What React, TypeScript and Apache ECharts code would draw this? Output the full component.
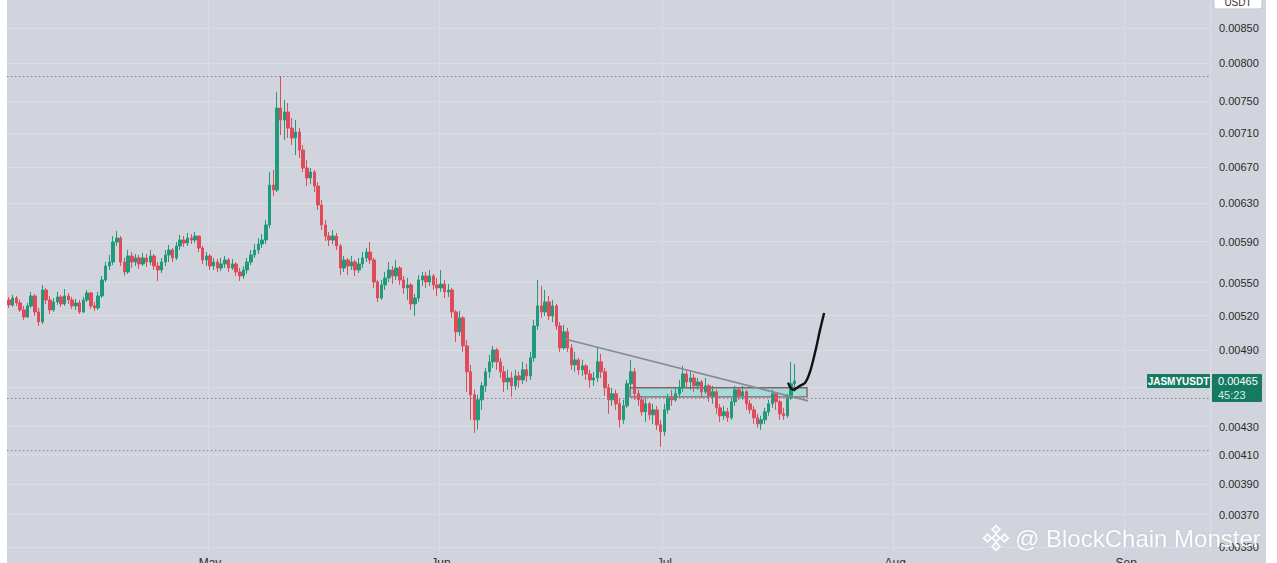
import React, { useEffect, useRef } from 'react';
import * as echarts from 'echarts';

// ---------- data (prices in USDT, 12h candles) ----------
const FIRST_OPEN = 0.00534;
const closes = [
  0.005295, 0.005358, 0.005313, 0.00525, 0.005187, 0.005286, 0.005377, 0.005232, 0.005143, 0.005432,
  0.00534, 0.00525, 0.005322, 0.005368, 0.005304, 0.005377, 0.00534, 0.005286, 0.005313, 0.005232,
  0.00534, 0.005405, 0.005286, 0.005268, 0.005377, 0.005526, 0.005659, 0.005698, 0.005896, 0.005936,
  0.005698, 0.005602, 0.005757, 0.005698, 0.005738, 0.005679, 0.005738, 0.005698, 0.005757, 0.005659,
  0.005621, 0.005698, 0.005767, 0.005816, 0.005738, 0.005856, 0.005916, 0.005886, 0.005936, 0.005916,
  0.005957, 0.005836, 0.005718, 0.005757, 0.005659, 0.005698, 0.00564, 0.005679, 0.005718, 0.00564,
  0.005679, 0.005602, 0.005564, 0.005621, 0.005698, 0.005767, 0.005816, 0.005876, 0.005916, 0.00607,
  0.006499, 0.006444, 0.007413, 0.007263, 0.007363, 0.007164, 0.007043, 0.007116, 0.0069, 0.006691,
  0.006578, 0.006645, 0.006488, 0.006281, 0.00607, 0.005957, 0.005916, 0.005957, 0.005856, 0.00564,
  0.005718, 0.005659, 0.005698, 0.005621, 0.005679, 0.005738, 0.005796, 0.005718, 0.005507, 0.005358,
  0.005479, 0.005545, 0.005621, 0.005564, 0.00564, 0.005526, 0.005451, 0.005479, 0.005304, 0.005358,
  0.005526, 0.005564, 0.005507, 0.005564, 0.005479, 0.005451, 0.005488, 0.005414, 0.005432, 0.005232,
  0.005057, 0.005179, 0.004937, 0.004723, 0.004541, 0.004351, 0.004502, 0.004611, 0.004723, 0.004804,
  0.004903, 0.004804, 0.004723, 0.004642, 0.004674, 0.004611, 0.00469, 0.004658, 0.004739, 0.00469,
  0.004837, 0.005108, 0.005286, 0.005232, 0.005322, 0.005196, 0.005286, 0.005108, 0.00492, 0.005057,
  0.00492, 0.004779, 0.00482, 0.004739, 0.004771, 0.004706, 0.004658, 0.004674, 0.004804, 0.004723,
  0.004596, 0.004502, 0.004549, 0.004472, 0.004351, 0.004456, 0.004627, 0.004723, 0.004549, 0.004502,
  0.004411, 0.004472, 0.004388, 0.004426, 0.004314, 0.004263, 0.004426, 0.004517, 0.004502, 0.004549,
  0.004596, 0.004706, 0.004642, 0.004674, 0.004611, 0.004642, 0.004564, 0.004611, 0.004533, 0.004564,
  0.004441, 0.004381, 0.004411, 0.004366, 0.004487, 0.00458, 0.004533, 0.004564, 0.004472, 0.004426,
  0.004366, 0.004321, 0.004351, 0.004411, 0.004472, 0.004549, 0.004487, 0.004396, 0.004381, 0.004517,
  0.004627, 0.00465,
];
const highs = [
  0.005368, 0.005386, 0.005377, 0.00534, 0.005286, 0.005313, 0.005414, 0.005395, 0.005268, 0.005479,
  0.005451, 0.005377, 0.005358, 0.005414, 0.005386, 0.005441, 0.005405, 0.005368, 0.005349, 0.00534,
  0.005368, 0.005432, 0.005414, 0.005322, 0.005414, 0.005564, 0.005698, 0.005767, 0.005957, 0.006008,
  0.005957, 0.005738, 0.005816, 0.005796, 0.005777, 0.005767, 0.005787, 0.005777, 0.005816, 0.005777,
  0.005698, 0.005738, 0.005816, 0.005866, 0.005836, 0.005896, 0.005967, 0.005957, 0.005988, 0.005977,
  0.005998, 0.005957, 0.005856, 0.005796, 0.005777, 0.005738, 0.005728, 0.005738, 0.005757, 0.005738,
  0.005728, 0.005698, 0.00564, 0.005659, 0.005738, 0.005816, 0.005876, 0.005936, 0.005977, 0.006122,
  0.006645, 0.006668, 0.007619, 0.007831, 0.007516, 0.007478, 0.007288, 0.007263, 0.007164, 0.006959,
  0.006783, 0.006691, 0.006668, 0.006533, 0.006335, 0.006122, 0.005998, 0.006018, 0.005988, 0.005876,
  0.005757, 0.005738, 0.005757, 0.005718, 0.005738, 0.005796, 0.005836, 0.005896, 0.005738, 0.005526,
  0.005526, 0.005602, 0.005698, 0.005659, 0.005718, 0.005659, 0.005564, 0.005545, 0.005498, 0.005395,
  0.005573, 0.005602, 0.005602, 0.005621, 0.005583, 0.005545, 0.005621, 0.005526, 0.005488, 0.005451,
  0.00525, 0.005241, 0.005196, 0.004988, 0.004779, 0.00458, 0.004541, 0.004642, 0.004755, 0.004862,
  0.004937, 0.00492, 0.004837, 0.004771, 0.004739, 0.004723, 0.004739, 0.004723, 0.004804, 0.004787,
  0.004887, 0.005161, 0.005526, 0.00547, 0.005432, 0.005377, 0.00534, 0.005304, 0.005143, 0.005117,
  0.005091, 0.004954, 0.004887, 0.004837, 0.00482, 0.004787, 0.004739, 0.004723, 0.00492, 0.00487,
  0.004755, 0.004627, 0.004596, 0.00458, 0.004517, 0.004502, 0.004658, 0.00482, 0.004755, 0.00458,
  0.004533, 0.004517, 0.004487, 0.004472, 0.004456, 0.004351, 0.004472, 0.004549, 0.00458, 0.004596,
  0.004658, 0.004771, 0.004739, 0.004723, 0.004706, 0.004674, 0.004658, 0.004674, 0.004627, 0.004611,
  0.00458, 0.004472, 0.004456, 0.004441, 0.004517, 0.004611, 0.004596, 0.004611, 0.00458, 0.004502,
  0.004456, 0.004396, 0.004381, 0.004441, 0.004502, 0.00458, 0.004564, 0.004502, 0.004441, 0.004549,
  0.004804, 0.004787,
];
const lows = [
  0.005268, 0.005277, 0.005286, 0.005232, 0.005161, 0.005179, 0.005268, 0.005196, 0.005108, 0.005126,
  0.005304, 0.005214, 0.005232, 0.005295, 0.005277, 0.005286, 0.005304, 0.005259, 0.00525, 0.005214,
  0.005223, 0.005322, 0.005259, 0.005241, 0.00525, 0.005358, 0.005507, 0.005621, 0.005669, 0.005856,
  0.005659, 0.005564, 0.005583, 0.00564, 0.005659, 0.005631, 0.005659, 0.00565, 0.005669, 0.005621,
  0.005517, 0.005592, 0.005659, 0.005698, 0.005698, 0.005718, 0.005816, 0.005846, 0.005856, 0.005876,
  0.005886, 0.005796, 0.005679, 0.005659, 0.005621, 0.005621, 0.005602, 0.005612, 0.00564, 0.005602,
  0.005621, 0.005564, 0.005517, 0.005536, 0.005583, 0.005669, 0.005738, 0.005777, 0.005836, 0.005876,
  0.006039, 0.006378, 0.006422, 0.007079, 0.007019, 0.007043, 0.006959, 0.006841, 0.006806, 0.006645,
  0.006488, 0.00651, 0.006422, 0.006228, 0.006018, 0.005906, 0.005856, 0.005876, 0.005816, 0.005573,
  0.005602, 0.005573, 0.005621, 0.005564, 0.005592, 0.00564, 0.005698, 0.005679, 0.005451, 0.005322,
  0.00534, 0.005432, 0.005507, 0.005488, 0.005526, 0.005479, 0.005395, 0.00534, 0.00525, 0.005196,
  0.005322, 0.00547, 0.005451, 0.00547, 0.005432, 0.005377, 0.005414, 0.005358, 0.005368, 0.005179,
  0.004971, 0.005022, 0.004887, 0.004564, 0.004351, 0.004255, 0.004277, 0.004426, 0.004564, 0.004674,
  0.004755, 0.004739, 0.004674, 0.004564, 0.00458, 0.004525, 0.00458, 0.004596, 0.004627, 0.004642,
  0.004658, 0.004804, 0.005074, 0.005179, 0.005196, 0.005161, 0.005143, 0.005074, 0.004887, 0.004903,
  0.004887, 0.004739, 0.004723, 0.004698, 0.00469, 0.004658, 0.004596, 0.004611, 0.004642, 0.004674,
  0.004533, 0.004396, 0.004456, 0.004426, 0.004292, 0.004321, 0.004441, 0.00458, 0.004502, 0.004456,
  0.004381, 0.004336, 0.004351, 0.004321, 0.004277, 0.004155, 0.004234, 0.004396, 0.004456, 0.004487,
  0.004525, 0.004564, 0.004596, 0.00458, 0.004564, 0.00458, 0.004517, 0.004549, 0.004487, 0.004472,
  0.004396, 0.004336, 0.004351, 0.004336, 0.004351, 0.004456, 0.004502, 0.004502, 0.004426, 0.004396,
  0.004321, 0.004292, 0.004277, 0.004321, 0.004381, 0.004441, 0.004426, 0.004351, 0.004351, 0.004366,
  0.004502, 0.004564,
];

// time axis slots (12h each), visible range incl. empty space on the right
const SLOT_COUNT = 323;
const START_UTC = Date.UTC(2023, 3, 4);
const HALF_DAY_MS = 12 * 3600 * 1000;
const MONTH_NAMES = ['Jan', 'Feb', 'Mar', 'Apr', 'May', 'Jun', 'Jul', 'Aug', 'Sep', 'Oct', 'Nov', 'Dec'];

// price axis
const gridTicks = [0.0085, 0.008, 0.0075, 0.0071, 0.0067, 0.0063, 0.0059, 0.0055, 0.0052, 0.0049, 0.0046, 0.0043, 0.0041, 0.0039, 0.0037, 0.0035];
const labelTicks = [0.0085, 0.008, 0.0075, 0.0071, 0.0067, 0.0063, 0.0059, 0.0055, 0.0052, 0.0049, 0.0043, 0.0041, 0.0039, 0.0037, 0.0035];
const PRICE_TOP = 0.008917;
const PRICE_BOTTOM = 0.003471;

// drawings
const dottedLevels = [0.00783, 0.00451, 0.00414];
const trendLine = [[149.3, 0.004996], [214.6, 0.004494]];
const zoneX = [166.8, 214.3];
const zoneY = [0.004596, 0.004525];
const projection = [
  [209.2, 0.004635], [210.6, 0.00458], [212.4, 0.004611], [213.8, 0.004635],
  [215.1, 0.004723], [216.5, 0.004887], [217.8, 0.005074], [218.9, 0.005223],
];
const LAST_PRICE = 0.00465;
const COUNTDOWN = '45:23';
const SYMBOL = 'JASMYUSDT';
const CURRENCY = 'USDT';
const WATERMARK = '@ BlockChain Monster';

// ---------- styles ----------
const BG = '#d1d4dc';
const GRID = '#dadde3';
const UP = '#1f9b7a';
const DOWN = '#de4c5b';
const LABEL_GREEN = '#167a61';
const FONT = '"Liberation Sans", Arial, sans-serif';

const categories = Array.from({ length: SLOT_COUNT }, (_, i) =>
  new Date(START_UTC + i * HALF_DAY_MS).toISOString().slice(0, 13)
);
const isMonthStart = (v: string) => v.slice(8, 13) === '01T00';
const monthName = (v: string) => MONTH_NAMES[parseInt(v.slice(5, 7), 10) - 1];
const L = (v: number) => Math.log(v);

function buildOption(): any {
  const candles = closes.map((c, i) => [
    L(i === 0 ? FIRST_OPEN : closes[i - 1]),
    L(c),
    L(lows[i]),
    L(highs[i]),
  ]);

  const logo = (cx: number, cy: number) => {
    const s = 5.5;
    const off = 8.5;
    const pts = [[0, 0], [0, -off], [0, off], [-off, 0], [off, 0]];
    return pts.map(([dx, dy]) => ({
      type: 'rect',
      x: cx + dx,
      y: cy + dy,
      rotation: Math.PI / 4,
      shape: { x: -s / 2, y: -s / 2, width: s, height: s },
      style: { fill: 'rgba(255,255,255,0.15)', stroke: 'rgba(255,255,255,0.95)', lineWidth: 1.6 },
      z: 100,
    }));
  };

  return {
    animation: false,
    backgroundColor: BG,
    grid: { left: 0, right: 56, top: 0, bottom: 33, containLabel: false },
    xAxis: [
      {
        type: 'category',
        gridIndex: 0,
        data: categories,
        boundaryGap: true,
        axisLine: { show: false },
        axisTick: { show: false },
        axisLabel: {
          interval: (_i: number, v: string) => isMonthStart(v),
          formatter: (v: string) => monthName(v),
          color: '#2f2f2f',
          fontSize: 12,
          fontFamily: FONT,
          margin: 5,
        },
        splitLine: {
          show: true,
          interval: (_i: number, v: string) => isMonthStart(v),
          lineStyle: { color: GRID, width: 1 },
        },
      },
      {
        type: 'value',
        gridIndex: 0,
        min: -0.5,
        max: SLOT_COUNT - 0.5,
        show: false,
      },
    ],
    yAxis: {
      type: 'value',
      position: 'right',
      min: L(PRICE_BOTTOM),
      max: L(PRICE_TOP),
      axisLine: { show: false },
      axisTick: { show: false, customValues: gridTicks.map(L) },
      axisLabel: {
        customValues: labelTicks.map(L),
        formatter: (v: number) => Math.exp(v).toFixed(5),
        color: '#2b2b2b',
        fontSize: 11,
        fontFamily: FONT,
        margin: 9,
      },
      splitLine: { show: true, lineStyle: { color: GRID, width: 1 } },
    },
    series: [
      {
        type: 'candlestick',
        xAxisIndex: 0,
        yAxisIndex: 0,
        data: candles,
        barWidth: 3,
        itemStyle: { color: UP, color0: DOWN, borderColor: UP, borderColor0: DOWN, borderWidth: 1 },
        markLine: {
          silent: true,
          symbol: ['none', 'none'],
          label: { show: false },
          lineStyle: { type: [1.5, 2.5], color: '#80848d', width: 1 },
          data: dottedLevels.map((v) => ({ yAxis: L(v) })),
        },
        z: 3,
      },
      {
        type: 'line',
        xAxisIndex: 1,
        yAxisIndex: 0,
        data: trendLine.map(([x, y]) => [x, L(y)]),
        symbol: 'none',
        lineStyle: { color: '#868a93', width: 1.6 },
        markArea: {
          silent: true,
          itemStyle: { color: 'rgba(150, 220, 216, 0.72)', borderColor: '#86606c', borderWidth: 1.4 },
          data: [[{ xAxis: zoneX[0], yAxis: L(zoneY[0]) }, { xAxis: zoneX[1], yAxis: L(zoneY[1]) }]],
        },
        z: 4,
      },
      {
        type: 'line',
        xAxisIndex: 1,
        yAxisIndex: 0,
        data: projection.map(([x, y]) => [x, L(y)]),
        smooth: 0.35,
        symbol: 'none',
        lineStyle: { color: '#111111', width: 2.4 },
        z: 5,
      },
    ],
    graphic: [
      // symbol tag
      { type: 'rect', z: 100, shape: { x: 1140, y: 374, width: 63, height: 14, r: 1 }, style: { fill: LABEL_GREEN } },
      {
        type: 'text', z: 101, x: 1171.5, y: 381,
        style: { text: SYMBOL, fill: '#ffffff', fontSize: 10, fontWeight: 'bold', fontFamily: FONT, align: 'center', verticalAlign: 'middle' },
      },
      // last price tag
      { type: 'rect', z: 100, shape: { x: 1205, y: 374, width: 50, height: 28, r: 1 }, style: { fill: LABEL_GREEN } },
      {
        type: 'text', z: 101, x: 1211, y: 381,
        style: { text: LAST_PRICE.toFixed(5), fill: '#ffffff', fontSize: 11, fontFamily: FONT, verticalAlign: 'middle' },
      },
      {
        type: 'text', z: 101, x: 1211, y: 395,
        style: { text: COUNTDOWN, fill: '#d5eee6', fontSize: 11, fontFamily: FONT, verticalAlign: 'middle' },
      },
      // currency button
      { type: 'rect', z: 100, shape: { x: 1207, y: -6, width: 48, height: 15, r: 3 }, style: { fill: '#ffffff', stroke: '#c4c7cf', lineWidth: 1 } },
      {
        type: 'text', z: 101, x: 1231, y: 2,
        style: { text: CURRENCY, fill: '#333333', fontSize: 10, fontFamily: FONT, align: 'center', verticalAlign: 'middle' },
      },
      // watermark
      ...logo(989, 538),
      {
        type: 'text', z: 100, x: 1008, y: 538,
        style: {
          text: WATERMARK, fill: 'rgba(255,255,255,0.92)', fontSize: 24, fontFamily: FONT,
          verticalAlign: 'middle', textShadowColor: 'rgba(0,0,0,0.12)', textShadowBlur: 2,
        },
      },
    ],
  };
}

export default function App() {
  const ref = useRef<HTMLDivElement>(null);
  useEffect(() => {
    if (!ref.current) return;
    const chart = echarts.init(ref.current, null, { renderer: 'svg' });
    chart.setOption(buildOption());
    return () => chart.dispose();
  }, []);
  return (
    <div style={{ position: 'fixed', left: 0, top: 0, width: 1277, height: 563, overflow: 'hidden', background: '#ffffff' }}>
      <div ref={ref} style={{ position: 'absolute', left: 7, top: 0, width: 1259, height: 585 }} />
    </div>
  );
}
